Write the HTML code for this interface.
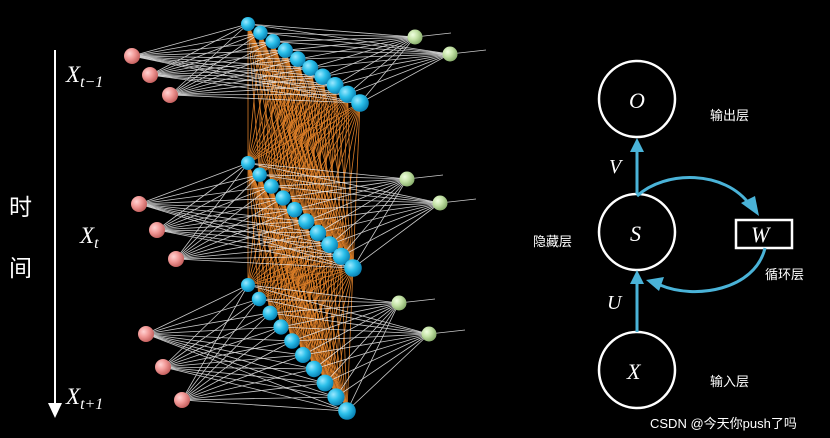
<!DOCTYPE html>
<html><head><meta charset="utf-8"><style>
html,body{margin:0;padding:0;background:#000;width:830px;height:438px;overflow:hidden}
svg{display:block}
.m{font-family:"Liberation Serif",serif;font-style:italic;fill:#fff}
.c{font-family:"Liberation Sans","Noto Sans CJK SC",sans-serif;fill:#fff}
</style></head><body>
<svg id="s" width="830" height="438" viewBox="0 0 830 438" xmlns="http://www.w3.org/2000/svg">
<defs>
<radialGradient id="gb" cx="35%" cy="35%" r="65%"><stop offset="0" stop-color="#9be8ff"/><stop offset="0.5" stop-color="#2cc0ea"/><stop offset="1" stop-color="#0b86b8"/></radialGradient>
<radialGradient id="gr" cx="35%" cy="35%" r="65%"><stop offset="0" stop-color="#ffd3d3"/><stop offset="0.5" stop-color="#f29a98"/><stop offset="1" stop-color="#c86462"/></radialGradient>
<radialGradient id="gg" cx="35%" cy="35%" r="65%"><stop offset="0" stop-color="#f0ffe0"/><stop offset="0.5" stop-color="#c5e3a8"/><stop offset="1" stop-color="#8db270"/></radialGradient>
</defs>
<g id="orange" stroke="#f08a2c" stroke-width="0.8" opacity="0.9"></g>
<g id="white" stroke="#f0f0f0" stroke-width="0.8" opacity="0.85"></g>
<g id="nodes"></g>
<line x1="55" y1="50" x2="55" y2="405" stroke="#fff" stroke-width="2"/>
<path d="M48,403 L62,403 L55,418 z" fill="#fff"/>
<text class="c" x="9" y="215" font-size="23">时</text>
<text class="c" x="9" y="276" font-size="23">间</text>
<text class="m" x="66" y="82" font-size="23">X<tspan font-size="16" dy="5">t−1</tspan></text>
<text class="m" x="80" y="243" font-size="23">X<tspan font-size="16" dy="5">t</tspan></text>
<text class="m" x="66" y="404" font-size="23">X<tspan font-size="16" dy="5">t+1</tspan></text>
<g fill="none" stroke="#fff" stroke-width="2.5">
<circle cx="637" cy="99" r="38"/><circle cx="637" cy="232" r="38"/><circle cx="637" cy="370" r="38"/>
<rect x="736" y="220" width="56" height="28"/>
</g>
<g fill="none" stroke="#4ab3d8" stroke-width="3">
<line x1="637" y1="194" x2="637" y2="150"/>
<line x1="637" y1="332" x2="637" y2="284"/>
<path d="M637,196 C665,170 725,170 750,205"/>
<path d="M765,248 C755,290 695,300 660,285"/>
</g>
<g fill="#4ab3d8">
<path d="M637,138 L630,152 L644,152 z"/>
<path d="M637,270 L630,284 L644,284 z"/>
<path d="M759,216 L741,203 L755,196 z"/>
<path d="M646,280 L664,277 L659,291 z"/>
</g>
<text class="m" x="629" y="108" font-size="22">O</text>
<text class="m" x="630" y="241" font-size="22">S</text>
<text class="m" x="627" y="379" font-size="22">X</text>
<text class="m" x="751" y="242" font-size="22">W</text>
<text class="m" x="609" y="173" font-size="20">V</text>
<text class="m" x="607" y="309" font-size="20">U</text>
<text class="c" x="710" y="120" font-size="13">输出层</text>
<text class="c" x="533" y="246" font-size="13">隐藏层</text>
<text class="c" x="765" y="279" font-size="13">循环层</text>
<text class="c" x="710" y="386" font-size="13">输入层</text>
<text class="c" x="650" y="428" font-size="13" fill="#ddd">CSDN @今天你push了吗</text>
</svg>
<script>
const NS="http://www.w3.org/2000/svg";
const layers=[
 {red:[[132,56],[150,75],[170,95]],b0:[248,24],b1:[360,103],green:[[415,37],[450,54]]},
 {red:[[139,204],[157,230],[176,259]],b0:[248,163],b1:[353,268],green:[[407,179],[440,203]]},
 {red:[[146,334],[163,367],[182,400]],b0:[248,285],b1:[347,411],green:[[399,303],[429,334]]}
];
layers.forEach(L=>{L.blue=[];for(let i=0;i<10;i++){const t=i/9;L.blue.push([L.b0[0]+(L.b1[0]-L.b0[0])*t,L.b0[1]+(L.b1[1]-L.b0[1])*t]);}});
const O=document.getElementById('orange'),W=document.getElementById('white'),N=document.getElementById('nodes');
function ln(g,a,b){const l=document.createElementNS(NS,'line');l.setAttribute('x1',a[0]);l.setAttribute('y1',a[1]);l.setAttribute('x2',b[0]);l.setAttribute('y2',b[1]);g.appendChild(l);}
for(let k=0;k<2;k++)layers[k].blue.forEach(a=>layers[k+1].blue.forEach(b=>ln(O,a,b)));
layers.forEach(L=>{
 L.red.forEach(a=>L.blue.forEach(b=>ln(W,a,b)));
 L.blue.forEach(a=>L.green.forEach(b=>ln(W,a,b)));
 L.green.forEach(g=>{ln(W,g,[g[0]+36,g[1]-4]);});
});
function c(p,r,f){const e=document.createElementNS(NS,'circle');e.setAttribute('cx',p[0]);e.setAttribute('cy',p[1]);e.setAttribute('r',r);e.setAttribute('fill',f);N.appendChild(e);}
layers.forEach(L=>{L.red.forEach(p=>c(p,8,'url(#gr)'));L.blue.forEach((p,i)=>c(p,7+i*0.2,'url(#gb)'));L.green.forEach(p=>c(p,7.5,'url(#gg)'));});
</script>
</body></html>
